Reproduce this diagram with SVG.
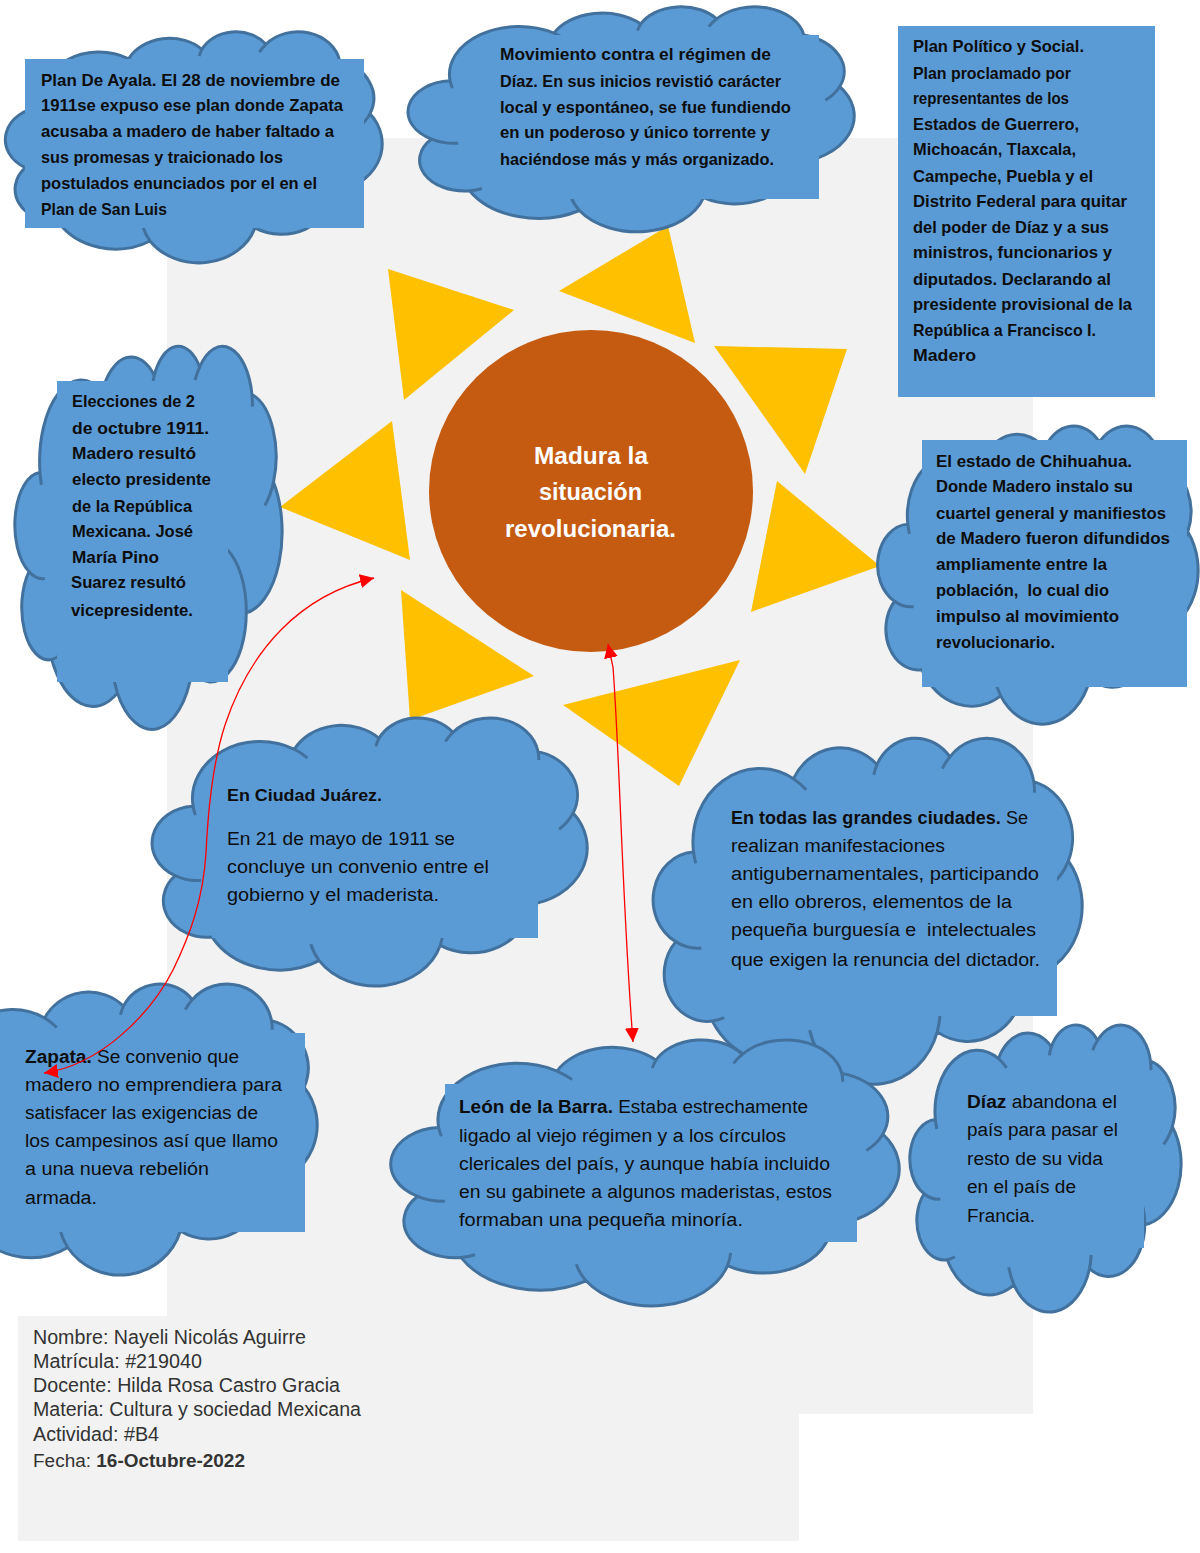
<svg xmlns="http://www.w3.org/2000/svg" width="1200" height="1553" viewBox="0 0 1200 1553">
<style>
.bg{fill:#f2f2f2}
.sun{fill:#ffc000}
.cloud{fill:#5b9bd5;stroke:#41719c;stroke-width:3;stroke-linejoin:round}
.box{fill:#5b9bd5}
text{font-family:"Liberation Sans","Noto Sans",sans-serif;fill:#0d0d0d}
.b{font-size:17px;font-weight:700}
.r{font-size:18px}
.t{font-size:23px;font-weight:700;fill:#fff}
.f{font-size:19.5px;fill:#333}
.c{fill:none;stroke:#f00;stroke-width:1.3}
</style>
<defs>
<marker id="ah" viewBox="0 0 10 10" refX="10" refY="5" markerWidth="14" markerHeight="14" markerUnits="userSpaceOnUse" orient="auto-start-reverse"><path d="M0 0L10 5L0 10Z" fill="#f00"/></marker>
<path id="cl" vector-effect="non-scaling-stroke" d="M3900 14370A6753 9190 0 0 1 14005 5204A5333 7267 0 0 1 22456 3435A4365 5945 0 0 1 29833 2484A4857 6595 0 0 1 38318 5579A5333 7273 0 0 1 41818 15463A6775 9220 0 0 1 37403 30207A5785 7867 0 0 1 28554 36817A6752 9215 0 0 1 16479 39268A7720 10543 0 0 1 5801 35472A4360 5918 0 0 1 2108 25550A4345 5945 0 0 1 3900 14370ZM4127 15789A6753 9190 0 0 1 3900 14370M14005 5204A6753 9190 0 0 1 15300 6600M22141 4720A4365 5945 0 0 1 22456 3435M29078 3952A4857 6595 0 0 1 29833 2484M38318 5579A4857 6595 0 0 1 38394 6950M41818 15463A5333 7273 0 0 1 40416 18100M34129 22954A5785 7867 0 0 1 37403 30207M28827 34751A6752 9215 0 0 1 28554 36817M16479 39268A6752 9215 0 0 1 15650 36600M7000 35040A4360 5918 0 0 1 5801 35472M4693 26340A4345 5945 0 0 1 2108 25550"/>
</defs>
<rect class="bg" x="167" y="138" width="866" height="1276"/>
<rect class="bg" x="18" y="1316" width="781" height="225"/>
<g id="sun-rays">
<polygon class="sun" points="388,269 514,310 404,400"/>
<polygon class="sun" points="559,291 668,226 695,343"/>
<polygon class="sun" points="714,346 847,349 805,474"/>
<polygon class="sun" points="777,481 880,566 751,612"/>
<polygon class="sun" points="563,705 740,660 679,786"/>
<polygon class="sun" points="401,590 534,676 410,720"/>
<polygon class="sun" points="280,507 392,421 410,560"/>
</g>
<g id="center">
<ellipse cx="591" cy="491" rx="162" ry="161" fill="#c55a11"/>
<text class="t" x="534" y="464" textLength="114" lengthAdjust="spacingAndGlyphs">Madura la</text>
<text class="t" x="539" y="500" textLength="103" lengthAdjust="spacingAndGlyphs">situación</text>
<text class="t" x="505" y="537" textLength="171" lengthAdjust="spacingAndGlyphs">revolucionaria.</text>
</g>
<g id="plan-ayala">
<use href="#cl" class="cloud" transform="translate(7 31) scale(.008681 .005347)"/>
<rect class="box" x="25" y="59" width="339" height="169"/>
<text class="b" x="41" y="86" textLength="299" lengthAdjust="spacingAndGlyphs">Plan De Ayala. El 28 de noviembre de</text>
<text class="b" x="41" y="111" textLength="302" lengthAdjust="spacingAndGlyphs">1911se expuso ese plan donde Zapata</text>
<text class="b" x="41" y="137" textLength="293" lengthAdjust="spacingAndGlyphs">acusaba a madero de haber faltado a</text>
<text class="b" x="41" y="163" textLength="242" lengthAdjust="spacingAndGlyphs">sus promesas y traicionado los</text>
<text class="b" x="41" y="189" textLength="276" lengthAdjust="spacingAndGlyphs">postulados enunciados por el en el</text>
<text class="b" x="41" y="215" textLength="126" lengthAdjust="spacingAndGlyphs">Plan de San Luis</text>
</g>
<g id="movimiento">
<use href="#cl" class="cloud" transform="translate(410 6) scale(.010278 .005208)"/>
<rect class="box" x="487" y="35" width="332" height="164"/>
<text class="b" x="500" y="60" textLength="271" lengthAdjust="spacingAndGlyphs">Movimiento contra el régimen de</text>
<text class="b" x="500" y="87" textLength="281" lengthAdjust="spacingAndGlyphs">Díaz. En sus inicios revistió carácter</text>
<text class="b" x="500" y="113" textLength="291" lengthAdjust="spacingAndGlyphs">local y espontáneo, se fue fundiendo</text>
<text class="b" x="500" y="138" textLength="270" lengthAdjust="spacingAndGlyphs">en un poderoso y único torrente y</text>
<text class="b" x="500" y="165" textLength="274" lengthAdjust="spacingAndGlyphs">haciéndose más y más organizado.</text>
</g>
<g id="plan-politico">
<rect class="box" x="898" y="26" width="257" height="371"/>
<text class="b" x="913" y="52" textLength="171" lengthAdjust="spacingAndGlyphs">Plan Político y Social.</text>
<text class="b" x="913" y="79" textLength="158" lengthAdjust="spacingAndGlyphs">Plan proclamado por</text>
<text class="b" x="913" y="104" textLength="156" lengthAdjust="spacingAndGlyphs">representantes de los</text>
<text class="b" x="913" y="130" textLength="166" lengthAdjust="spacingAndGlyphs">Estados de Guerrero,</text>
<text class="b" x="913" y="155" textLength="163" lengthAdjust="spacingAndGlyphs">Michoacán, Tlaxcala,</text>
<text class="b" x="913" y="182" textLength="180" lengthAdjust="spacingAndGlyphs">Campeche, Puebla y el</text>
<text class="b" x="913" y="207" textLength="214" lengthAdjust="spacingAndGlyphs">Distrito Federal para quitar</text>
<text class="b" x="913" y="233" textLength="196" lengthAdjust="spacingAndGlyphs">del poder de Díaz y a sus</text>
<text class="b" x="913" y="258" textLength="199" lengthAdjust="spacingAndGlyphs">ministros, funcionarios y</text>
<text class="b" x="913" y="285" textLength="198" lengthAdjust="spacingAndGlyphs">diputados. Declarando al</text>
<text class="b" x="913" y="310" textLength="219" lengthAdjust="spacingAndGlyphs">presidente provisional de la</text>
<text class="b" x="913" y="336" textLength="183" lengthAdjust="spacingAndGlyphs">República a Francisco I.</text>
<text class="b" x="913" y="361" textLength="63" lengthAdjust="spacingAndGlyphs">Madero</text>
</g>
<g id="chihuahua">
<use href="#cl" class="cloud" transform="translate(879 425) scale(.007384 .006898)"/>
<rect class="box" x="922" y="440" width="265" height="247"/>
<text class="b" x="936" y="467" textLength="196" lengthAdjust="spacingAndGlyphs">El estado de Chihuahua.</text>
<text class="b" x="936" y="492" textLength="197" lengthAdjust="spacingAndGlyphs">Donde Madero instalo su</text>
<text class="b" x="936" y="519" textLength="230" lengthAdjust="spacingAndGlyphs">cuartel general y manifiestos</text>
<text class="b" x="936" y="544" textLength="234" lengthAdjust="spacingAndGlyphs">de Madero fueron difundidos</text>
<text class="b" x="936" y="570" textLength="171" lengthAdjust="spacingAndGlyphs">ampliamente entre la</text>
<text class="b" x="936" y="596" textLength="173" lengthAdjust="spacingAndGlyphs" xml:space="preserve">población,  lo cual dio</text>
<text class="b" x="936" y="622" textLength="183" lengthAdjust="spacingAndGlyphs">impulso al movimiento</text>
<text class="b" x="936" y="648" textLength="119" lengthAdjust="spacingAndGlyphs">revolucionario.</text>
</g>
<g id="elecciones">
<use href="#cl" class="cloud" transform="translate(16 345) scale(.006157 .008866)"/>
<rect class="box" x="57" y="381" width="171" height="301"/>
<text class="b" x="72" y="407" textLength="123" lengthAdjust="spacingAndGlyphs">Elecciones de 2</text>
<text class="b" x="72" y="434" textLength="137" lengthAdjust="spacingAndGlyphs">de octubre 1911.</text>
<text class="b" x="72" y="459" textLength="124" lengthAdjust="spacingAndGlyphs">Madero resultó</text>
<text class="b" x="72" y="485" textLength="139" lengthAdjust="spacingAndGlyphs">electo presidente</text>
<text class="b" x="72" y="512" textLength="120" lengthAdjust="spacingAndGlyphs">de la República</text>
<text class="b" x="72" y="537" textLength="121" lengthAdjust="spacingAndGlyphs">Mexicana. José</text>
<text class="b" x="72" y="563" textLength="87" lengthAdjust="spacingAndGlyphs">María Pino</text>
<text class="b" x="71" y="588" textLength="115" lengthAdjust="spacingAndGlyphs">Suarez resultó</text>
<text class="b" x="71" y="616" textLength="122" lengthAdjust="spacingAndGlyphs">vicepresidente.</text>
</g>
<g id="ciudad-juarez">
<use href="#cl" class="cloud" transform="translate(154 717) scale(.010023 .006204)"/>
<rect class="box" x="212" y="780" width="326" height="158"/>
<text class="b" x="227" y="801" textLength="155" lengthAdjust="spacingAndGlyphs">En Ciudad Juárez.</text>
<text class="r" x="227" y="845" textLength="228" lengthAdjust="spacingAndGlyphs">En 21 de mayo de 1911 se</text>
<text class="r" x="227" y="873" textLength="262" lengthAdjust="spacingAndGlyphs">concluye un convenio entre el</text>
<text class="r" x="227" y="901" textLength="212" lengthAdjust="spacingAndGlyphs">gobierno y el maderista.</text>
</g>
<g id="grandes-ciudades">
<use href="#cl" class="cloud" transform="translate(655 737) scale(.009884 .008009)"/>
<rect class="box" x="717" y="802" width="340" height="214"/>
<text class="r" x="731" y="824" textLength="297" lengthAdjust="spacingAndGlyphs"><tspan font-weight="700">En todas las grandes ciudades.</tspan> Se</text>
<text class="r" x="731" y="852" textLength="214" lengthAdjust="spacingAndGlyphs">realizan manifestaciones</text>
<text class="r" x="731" y="880" textLength="308" lengthAdjust="spacingAndGlyphs">antigubernamentales, participando</text>
<text class="r" x="731" y="908" textLength="281" lengthAdjust="spacingAndGlyphs">en ello obreros, elementos de la</text>
<text class="r" x="731" y="936" textLength="305" lengthAdjust="spacingAndGlyphs" xml:space="preserve">pequeña burguesía e  intelectuales</text>
<text class="r" x="731" y="966" textLength="309" lengthAdjust="spacingAndGlyphs">que exigen la renuncia del dictador.</text>
</g>
<g id="zapata">
<use href="#cl" class="cloud" transform="translate(-86 983) scale(.009329 .006736)"/>
<rect class="box" x="0" y="1033" width="305" height="199"/>
<text class="r" x="25" y="1063" textLength="214" lengthAdjust="spacingAndGlyphs"><tspan font-weight="700">Zapata.</tspan> Se convenio que</text>
<text class="r" x="25" y="1091" textLength="257" lengthAdjust="spacingAndGlyphs">madero no emprendiera para</text>
<text class="r" x="25" y="1119" textLength="233" lengthAdjust="spacingAndGlyphs">satisfacer las exigencias de</text>
<text class="r" x="25" y="1147" textLength="253" lengthAdjust="spacingAndGlyphs">los campesinos así que llamo</text>
<text class="r" x="25" y="1175" textLength="184" lengthAdjust="spacingAndGlyphs">a una nueva rebelión</text>
<text class="r" x="25" y="1204" textLength="72" lengthAdjust="spacingAndGlyphs">armada.</text>
</g>
<g id="leon">
<use href="#cl" class="cloud" transform="translate(393 1039) scale(.011713 .006157)"/>
<rect class="box" x="445" y="1084" width="412" height="158"/>
<text class="r" x="459" y="1113" textLength="349" lengthAdjust="spacingAndGlyphs"><tspan font-weight="700">León de la Barra.</tspan> Estaba estrechamente</text>
<text class="r" x="459" y="1142" textLength="327" lengthAdjust="spacingAndGlyphs">ligado al viejo régimen y a los círculos</text>
<text class="r" x="459" y="1170" textLength="371" lengthAdjust="spacingAndGlyphs">clericales del país, y aunque había incluido</text>
<text class="r" x="459" y="1198" textLength="373" lengthAdjust="spacingAndGlyphs">en su gabinete a algunos maderistas, estos</text>
<text class="r" x="459" y="1226" textLength="284" lengthAdjust="spacingAndGlyphs">formaban una pequeña minoría.</text>
</g>
<g id="diaz">
<use href="#cl" class="cloud" transform="translate(911 1024) scale(.00625 .006644)"/>
<rect class="box" x="953" y="1084" width="191" height="164"/>
<text class="r" x="967" y="1108" textLength="150" lengthAdjust="spacingAndGlyphs"><tspan font-weight="700">Díaz</tspan> abandona el</text>
<text class="r" x="967" y="1136" textLength="151" lengthAdjust="spacingAndGlyphs">país para pasar el</text>
<text class="r" x="967" y="1165" textLength="136" lengthAdjust="spacingAndGlyphs">resto de su vida</text>
<text class="r" x="967" y="1193" textLength="109" lengthAdjust="spacingAndGlyphs">en el país de</text>
<text class="r" x="967" y="1222" textLength="68" lengthAdjust="spacingAndGlyphs">Francia.</text>
</g>
<g id="datos">
<text class="f" x="33" y="1344" textLength="273" lengthAdjust="spacingAndGlyphs">Nombre: Nayeli Nicolás Aguirre</text>
<text class="f" x="33" y="1368" textLength="169" lengthAdjust="spacingAndGlyphs">Matrícula: #219040</text>
<text class="f" x="33" y="1392" textLength="307" lengthAdjust="spacingAndGlyphs">Docente: Hilda Rosa Castro Gracia</text>
<text class="f" x="33" y="1416" textLength="328" lengthAdjust="spacingAndGlyphs">Materia: Cultura y sociedad Mexicana</text>
<text class="f" x="33" y="1441" textLength="126" lengthAdjust="spacingAndGlyphs">Actividad: #B4</text>
<text class="f" x="33" y="1467" textLength="212" lengthAdjust="spacingAndGlyphs" style="font-size:17.5px">Fecha: <tspan font-weight="700">16-Octubre-2022</tspan></text>
</g>
<g id="connectors">
<path class="c" marker-start="url(#ah)" marker-end="url(#ah)" d="M374 578C300 595 250 650 225 725C212 765 208 810 206 853C203 900 190 935 173 970C150 1015 100 1065 44 1073"/>
<path class="c" marker-start="url(#ah)" marker-end="url(#ah)" d="M608 644L613 667C620 760 622 900 633 1042"/>
</g>
</svg>
